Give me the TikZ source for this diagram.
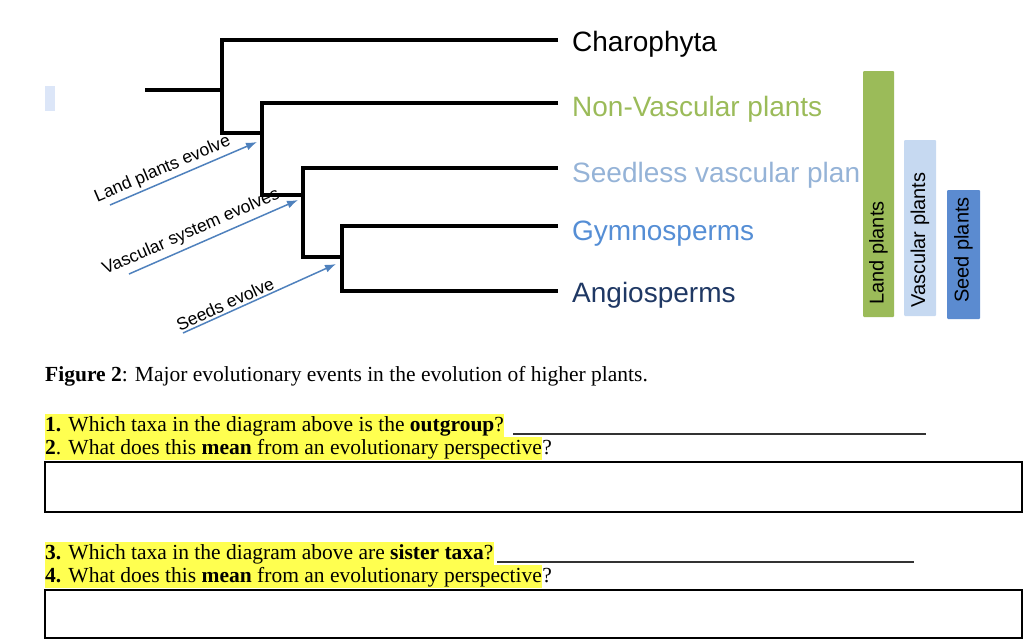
\documentclass[tikz,border=0pt]{standalone}
\usepackage{fontspec}
\setmainfont{Liberation Serif}
\newfontfamily\arialfont{Liberation Sans}
\usetikzlibrary{arrows.meta}
\definecolor{nvgreen}{HTML}{9BBB59}
\definecolor{svblue}{HTML}{95B3D7}
\definecolor{gymblue}{HTML}{558ED5}
\definecolor{angnavy}{HTML}{1F3864}
\definecolor{vasclight}{HTML}{C6D9F1}
\definecolor{seedblue}{HTML}{5B8BD0}
\definecolor{arrowblue}{HTML}{4F81BD}
\definecolor{hlyellow}{HTML}{FFFF50}
\definecolor{tagblue}{HTML}{DCE6F8}
\begin{document}
\begin{tikzpicture}[x=1pt, y=-1pt,
    branch/.style={line width=4.5pt, line join=miter},
    taxon/.style={anchor=base west, inner sep=0pt, font=\arialfont\fontsize{28}{30}\selectfont},
    event/.style={draw=arrowblue, line width=1.5pt, -{Latex[length=11pt,width=8pt]}},
    eventlabel/.style={sloped, above, inner sep=3pt, font=\arialfont\fontsize{17.5}{19}\selectfont},
    barlabel/.style={rotate=90, anchor=west, inner sep=0pt, font=\arialfont\fontsize{20}{22}\selectfont},
    qline/.style={anchor=base west, inner sep=0pt, text height=17pt, text depth=6pt, font=\fontsize{21.5}{23}\selectfont},
    blankline/.style={draw=black!80, line width=2pt},
    answerbox/.style={draw, line width=1.3pt}
]
    \useasboundingbox (0,0) rectangle (1024,641);

    \fill[tagblue] (45,86) rectangle (55,111);

    \coordinate (root) at (145,90);
    \coordinate (n1) at (222,90);
    \coordinate (n2) at (262,133);
    \coordinate (n3) at (303,195);
    \coordinate (n4) at (342,257);
    \coordinate (l1) at (558,40);
    \coordinate (l2) at (558,103);
    \coordinate (l3) at (558,168);
    \coordinate (l4) at (558,226);
    \coordinate (l5) at (558,291);

    \draw[branch] (root) -- (n1);
    \draw[branch] (l1) -| (n1) |- (n2);
    \draw[branch] (l2) -| (n2) |- (n3);
    \draw[branch] (l3) -| (n3) |- (n4);
    \draw[branch] (l4) -| (n4) |- (l5);

    \node[taxon] (charo) at (572,51) {Charophyta};
    \node[taxon, text=nvgreen] (nonvasc) at (572,116) {Non-Vascular plants};
    \node[taxon, text=svblue] (seedless) at (572,182) {Seedless vascular plan};
    \node[taxon, text=gymblue] (gymno) at (572,240) {Gymnosperms};
    \node[taxon, text=angnavy] (angio) at (572,302) {Angiosperms};

    \coordinate (landtail) at (110,205);
    \coordinate (landtip) at (257,142);
    \coordinate (vasctail) at (129,274);
    \coordinate (vasctip) at (298,200);
    \coordinate (seedtail) at (183,333);
    \coordinate (seedtip) at (336,264);

    \draw[event] (landtail) -- node[eventlabel, pos=0.39] (landev) {Land plants evolve} (landtip);
    \draw[event] (vasctail) -- node[eventlabel, pos=0.40, inner sep=4.5pt] (vascev) {Vascular system evolves} (vasctip);
    \draw[event] (seedtail) -- node[eventlabel, pos=0.30, inner sep=2pt] (seedev) {Seeds evolve} (seedtip);

    \fill[nvgreen, rounded corners=1pt] (863,71) rectangle (894,317);
    \fill[vasclight, rounded corners=1pt] (904,140) rectangle (936,316);
    \fill[seedblue, rounded corners=1pt] (947,190) rectangle (980,319);
    \node[barlabel] (landbar) at (878.5,305) {Land plants};
    \node[barlabel] (vascbar) at (920,308) {Vascular plants};
    \node[barlabel] (seedbar) at (963.5,303) {Seed plants};

    \node[qline] (caption) at (45,381) {\textbf{Figure 2}: Major evolutionary events in the evolution of higher plants.};

    \node[qline, fill=hlyellow] (q1) at (45,431) {\textbf{1.} Which taxa in the diagram above is the \textbf{outgroup}?\ };
    \draw[blankline] (513,434) -- (926,434);
    \node[qline, fill=hlyellow] (q2) at (45,454) {\textbf{2}. What does this \textbf{mean} from an evolutionary perspective};
    \node[qline] (q2end) at (q2.base east) {?};
    \draw[answerbox] (45,462) rectangle (1022,512);

    \node[qline, fill=hlyellow] (q3) at (45,559) {\textbf{3.} Which taxa in the diagram above are \textbf{sister taxa}?};
    \draw[blankline] (497,562) -- (914,562);
    \node[qline, fill=hlyellow] (q4) at (45,582) {\textbf{4.} What does this \textbf{mean} from an evolutionary perspective};
    \node[qline] (q4end) at (q4.base east) {?};
    \draw[answerbox] (45,590) rectangle (1022,638);
\end{tikzpicture}
\end{document}
